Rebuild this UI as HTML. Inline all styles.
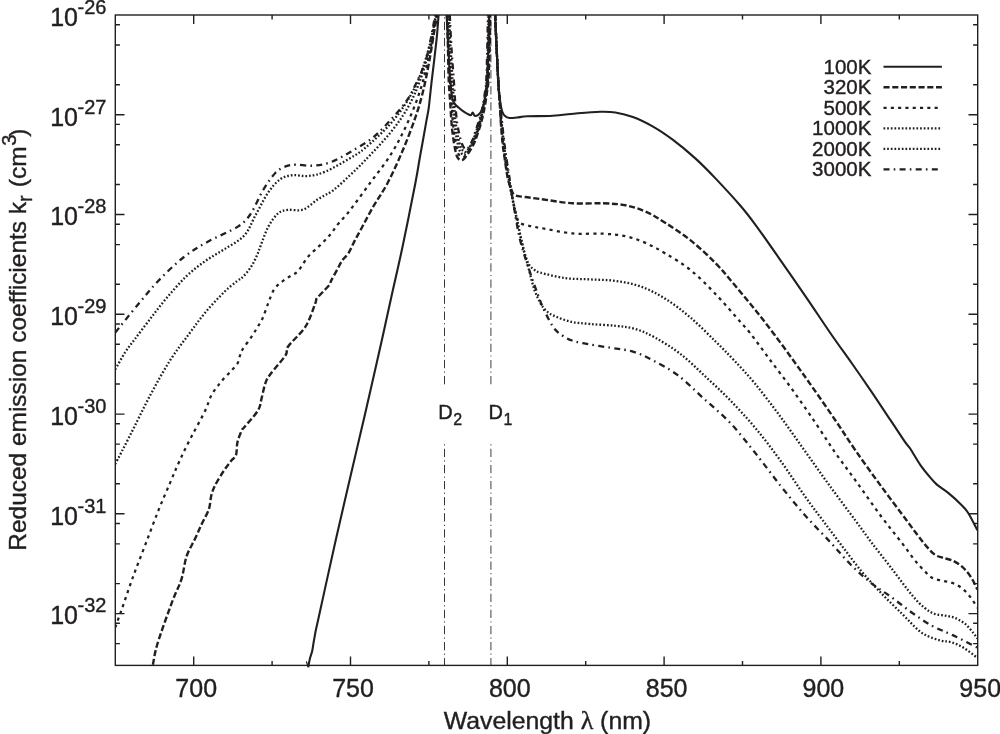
<!DOCTYPE html>
<html><head><meta charset="utf-8"><title>Reduced emission coefficients</title>
<style>html,body{margin:0;padding:0;background:#fff}svg{display:block}text{font-family:"Liberation Sans",sans-serif;fill:#231f20;stroke:#231f20;stroke-width:0.4px}</style></head><body>
<svg width="1000" height="734" viewBox="0 0 1000 734">
<rect width="1000" height="734" fill="#fff"/>
<clipPath id="c"><rect x="115.3" y="15.0" width="862.4" height="653.4"/></clipPath>
<g fill="none">
<path stroke="#231f20" stroke-width="0.9" stroke-dasharray="8.3 3.3 1.2 3.3" d="M444.5 384.3V15"/><path stroke="#231f20" stroke-width="0.9" stroke-dasharray="1.2 3.3 8.3 3.3" d="M444.5 444.3V665"/>
<path stroke="#5a5a5a" stroke-width="1.15" stroke-dasharray="8.3 3.3 1.2 3.3" d="M490.9 384.3V15"/><path stroke="#5a5a5a" stroke-width="1.15" stroke-dasharray="1.2 3.3 8.3 3.3" d="M490.9 444.3V665"/></g>
<g clip-path="url(#c)" fill="none" stroke="#231f20" stroke-linejoin="round">
<path style="stroke-width:2.1" d="M308.3 667.4C308.4 666.9 308.4 666.1 308.7 664.5C309.0 662.9 309.6 659.7 310.2 657.5C310.8 655.3 311.5 654.0 312.1 651.5C312.7 649.0 313.0 645.9 313.6 642.5C314.2 639.1 314.9 635.0 315.6 631.2C316.4 627.5 316.4 627.6 318.1 620.0C319.8 612.4 322.8 598.7 325.7 585.4C328.6 572.1 331.6 558.2 335.7 540.2C339.8 522.2 346.0 495.5 350.2 477.6C354.4 459.7 357.1 447.9 360.6 433.0C364.1 418.1 367.3 404.3 371.0 388.0C374.7 371.7 379.5 350.7 383.0 335.0C386.5 319.3 388.7 308.8 392.0 294.0C395.3 279.2 398.8 264.5 402.7 246.0C406.6 227.5 412.5 198.1 415.4 183.0C418.3 167.9 418.3 165.9 420.2 155.5C422.1 145.1 425.1 128.4 426.5 120.4C427.9 112.4 428.0 113.7 428.8 107.4C429.6 101.1 430.2 93.9 431.5 82.7C432.8 71.5 435.3 51.4 436.5 40.1C437.7 28.8 438.2 19.2 438.6 15.0"/>
<path style="stroke-width:2.1" d="M446.6 15.0C447.0 22.9 448.4 50.5 449.1 62.7C449.8 74.9 450.4 81.9 451.0 88.0C451.6 94.1 451.8 96.8 452.5 99.5C453.2 102.2 454.3 103.2 455.3 104.5C456.3 105.8 457.0 106.2 458.5 107.5C460.0 108.8 462.5 110.9 464.5 112.2C466.5 113.5 469.1 115.1 470.5 115.2C471.9 115.3 471.9 112.5 472.7 112.6C473.4 112.7 473.9 115.8 475.0 116.0C476.1 116.2 478.2 115.0 479.5 113.7C480.8 112.5 481.6 110.9 482.5 108.5C483.4 106.1 484.1 102.8 484.7 99.5C485.3 96.2 485.6 95.1 486.2 89.0C486.8 82.9 487.5 75.0 488.0 62.7C488.5 50.4 489.0 22.9 489.2 15.0"/>
<path style="stroke-width:2.1" d="M495.1 15.0C495.6 25.8 497.3 65.4 498.2 80.0C499.1 94.6 499.6 97.2 500.3 102.5C501.0 107.8 501.4 109.2 502.2 111.5C503.0 113.8 503.8 114.9 505.0 116.0C506.2 117.1 507.5 117.8 509.5 118.0C511.5 118.2 514.0 117.8 517.0 117.5C520.0 117.2 521.6 116.6 527.6 116.3C533.6 116.0 544.3 116.3 552.7 115.8C561.1 115.3 569.9 114.0 577.8 113.3C585.7 112.6 594.0 111.9 600.3 111.8C606.6 111.7 610.0 111.6 615.4 112.5C620.8 113.4 626.6 114.7 632.9 117.0C639.2 119.3 646.3 122.8 653.0 126.6C659.7 130.4 665.9 134.6 673.0 139.9C680.1 145.2 688.5 152.2 695.6 158.6C702.7 165.0 708.3 170.8 715.7 178.6C723.1 186.4 733.4 197.6 740.0 205.2C746.6 212.8 748.4 215.2 755.1 224.3C761.8 233.4 771.9 247.9 780.2 259.8C788.6 271.7 796.9 283.7 805.2 295.9C813.6 308.1 822.6 321.8 830.3 333.0C838.0 344.2 844.9 353.5 851.6 363.0C858.3 372.5 863.9 380.6 870.4 390.1C876.9 399.6 884.6 411.4 890.5 420.2C896.4 429.0 902.2 437.9 905.5 442.7C908.8 447.5 908.0 445.2 910.5 449.0C913.0 452.8 917.2 460.5 920.6 465.3C924.0 470.1 927.9 474.7 930.6 477.9C933.3 481.1 934.0 482.1 936.9 484.6C939.8 487.1 944.2 489.6 948.2 492.9C952.2 496.2 957.4 500.8 960.7 504.2C964.0 507.6 965.4 508.6 968.2 513.0C971.0 517.4 975.9 527.4 977.4 530.3"/>
<path style="stroke-width:2.4;stroke-dasharray:6.1 2.65" d="M152.9 664.7C153.7 661.1 154.4 653.7 157.7 643.0C161.0 632.3 168.7 611.0 172.7 600.4C176.7 589.8 179.2 586.4 181.5 579.1C183.8 571.8 184.3 563.1 186.5 556.5C188.7 549.9 192.2 544.8 194.7 539.5C197.2 534.2 199.2 529.5 201.5 524.5C203.8 519.5 207.2 514.2 208.8 509.5C210.4 504.8 210.2 500.0 211.2 496.0C212.2 492.0 212.9 489.8 215.0 485.5C217.1 481.2 221.3 474.6 224.0 470.5C226.7 466.4 229.0 463.6 231.0 461.0C233.0 458.4 234.9 458.2 236.0 455.0C237.1 451.8 236.5 446.2 237.5 442.0C238.5 437.8 240.9 432.4 242.0 430.0C243.1 427.6 241.3 430.8 244.0 427.5C246.7 424.2 255.1 415.3 258.0 410.4C260.9 405.5 260.4 402.5 261.7 397.9C262.9 393.3 264.0 386.8 265.5 382.8C267.0 378.8 267.1 378.6 270.5 374.0C273.9 369.4 282.7 359.8 285.6 355.2C288.5 350.6 284.8 351.3 288.1 346.5C291.4 341.7 301.1 333.5 305.6 326.4C310.1 319.2 313.4 308.2 315.2 303.6C317.0 299.0 315.3 300.5 316.7 298.5C318.1 296.5 321.1 293.9 323.3 291.5C325.5 289.1 328.5 286.2 329.8 284.4C331.1 282.5 330.0 282.9 331.3 280.4C332.6 277.9 335.5 272.7 337.4 269.3C339.2 265.9 340.5 262.9 342.4 260.2C344.2 257.5 346.5 256.4 348.5 253.2C350.5 250.0 352.5 245.0 354.5 241.1C356.5 237.2 357.5 235.7 360.6 230.0C363.7 224.3 368.5 214.8 373.0 207.0C377.5 199.2 382.7 192.4 387.6 183.0C392.6 173.6 398.1 161.3 402.7 150.5C407.3 139.7 411.9 127.5 415.2 117.9C418.5 108.3 420.4 102.0 422.7 92.8C425.0 83.6 426.9 74.0 429.0 62.7C431.1 51.4 433.9 33.0 435.3 25.0C436.7 17.1 437.0 16.7 437.3 15.0"/>
<path style="stroke-width:2.25;stroke-dasharray:3.1 4.2" d="M115.3 627.5C115.8 626.1 117.0 622.6 118.3 618.9C119.7 615.2 120.7 612.5 123.2 605.2C125.7 597.9 129.8 585.7 133.6 575.3C137.4 564.9 141.9 553.6 146.1 542.7C150.2 531.9 154.5 520.2 158.5 510.2C162.5 500.2 166.7 490.8 170.2 482.6C173.7 474.4 175.9 468.7 179.5 461.0C183.1 453.3 187.2 444.8 191.5 436.5C195.8 428.2 201.8 417.8 205.0 411.0C208.2 404.2 209.0 400.0 211.0 396.0C213.0 392.0 215.0 389.8 217.0 387.0C219.0 384.2 220.7 382.2 223.0 379.5C225.3 376.8 228.6 373.7 231.0 371.0C233.4 368.3 236.0 366.1 237.5 363.5C239.0 360.9 239.2 357.8 240.0 355.5C240.8 353.2 240.7 352.5 242.5 349.5C244.3 346.5 248.7 340.9 251.1 337.3C253.5 333.7 255.1 331.2 257.0 328.0C258.9 324.8 260.7 322.4 262.6 318.2C264.5 314.0 266.4 307.8 268.3 303.0C270.2 298.2 271.8 293.1 274.0 289.6C276.2 286.1 278.9 284.2 281.6 282.0C284.3 279.8 287.2 278.1 290.0 276.3C292.8 274.5 295.1 274.3 298.1 271.0C301.1 267.7 304.4 261.0 308.1 256.7C311.8 252.4 316.5 248.8 320.2 245.1C323.9 241.4 327.3 238.0 330.3 234.5C333.3 231.0 334.9 227.9 338.2 223.9C341.5 219.9 344.7 217.1 350.0 210.3C355.3 203.5 363.4 192.1 370.1 183.0C376.8 173.9 384.4 164.7 390.2 155.5C396.0 146.3 400.6 137.5 405.2 127.9C409.8 118.3 414.1 107.8 417.7 97.8C421.2 87.8 423.8 79.0 426.5 67.7C429.2 56.4 432.3 38.8 434.0 30.0C435.7 21.2 436.1 17.5 436.5 15.0"/>
<path style="stroke-width:2.3;stroke-dasharray:1.7 1.96" d="M115.3 464.0C117.8 459.2 124.2 446.9 130.0 435.5C135.8 424.1 143.5 407.9 150.2 395.3C156.9 382.8 163.7 370.4 170.2 360.2C176.7 350.0 183.2 341.9 189.0 334.0C194.8 326.1 199.4 319.5 205.3 312.5C211.2 305.5 219.1 297.0 224.4 291.8C229.7 286.6 233.8 283.8 237.0 281.2C240.2 278.6 241.2 278.7 243.5 276.3C245.8 273.9 248.9 270.1 251.1 266.7C253.3 263.3 255.1 259.5 256.7 256.0C258.3 252.5 258.7 250.7 260.6 245.8C262.5 240.9 265.4 232.1 268.3 226.7C271.2 221.3 274.6 216.4 277.8 213.6C281.0 210.8 283.3 210.6 287.5 209.9C291.7 209.2 298.0 211.4 303.1 209.6C308.2 207.8 313.2 202.2 318.2 199.0C323.2 195.8 327.9 194.3 333.2 190.3C338.5 186.3 344.7 180.2 350.0 175.2C355.3 170.2 358.3 167.6 365.0 160.5C371.7 153.4 383.1 141.7 390.2 132.9C397.3 124.1 402.7 116.6 407.7 107.8C412.7 99.0 416.4 90.7 420.2 80.2C424.0 69.8 427.7 56.0 430.3 45.1C432.9 34.2 435.1 20.0 436.0 15.0"/>
<path style="stroke-width:2.3;stroke-dasharray:1.7 1.96" d="M115.3 369.5C116.9 366.7 121.8 357.6 125.0 352.5C128.2 347.4 130.6 344.9 134.8 339.2C139.1 333.5 145.1 325.5 150.5 318.5C155.9 311.5 161.2 304.3 167.2 297.3C173.2 290.3 180.0 282.4 186.3 276.3C192.7 270.2 199.0 265.5 205.3 261.0C211.7 256.5 217.9 253.4 224.4 249.2C230.9 245.0 239.0 241.2 244.2 235.6C249.4 229.9 251.5 222.4 255.5 215.3C259.5 208.2 263.8 198.9 268.0 192.8C272.2 186.8 276.3 181.9 280.5 179.0C284.7 176.1 288.5 175.7 293.1 175.2C297.7 174.7 302.7 176.6 308.1 176.0C313.5 175.4 318.7 174.5 325.7 171.5C332.7 168.5 343.4 162.1 350.0 158.2C356.6 154.3 358.4 153.7 365.1 148.0C371.8 142.3 383.1 132.0 390.2 124.1C397.3 116.1 402.7 108.4 407.7 100.3C412.7 92.2 416.4 84.8 420.2 75.2C424.0 65.6 427.7 52.6 430.3 42.6C432.9 32.6 434.9 19.6 435.8 15.0"/>
<path style="stroke-width:2.3;stroke-dasharray:6 4.2 1.6 4.3" d="M115.3 332.5C119.0 327.9 130.4 313.6 137.6 305.0C144.8 296.4 150.7 288.8 158.2 281.0C165.7 273.2 174.4 264.6 182.7 258.0C191.0 251.4 198.6 246.9 207.8 241.7C217.0 236.5 230.8 231.2 237.9 226.6C245.0 222.0 246.3 220.1 250.5 214.1C254.7 208.1 258.8 197.2 263.0 190.3C267.2 183.4 271.7 176.7 275.5 172.7C279.3 168.7 282.2 167.7 285.6 166.4C289.0 165.1 291.0 164.8 295.6 164.7C300.2 164.6 307.2 166.1 313.1 165.7C319.0 165.3 324.6 164.4 330.7 162.2C336.8 159.9 343.0 156.2 350.0 152.2C357.0 148.1 365.9 143.2 372.6 137.9C379.3 132.6 384.8 126.2 390.2 120.4C395.6 114.6 401.0 108.7 405.2 102.8C409.4 96.9 411.6 92.8 415.2 85.3C418.8 77.8 423.1 69.4 426.5 57.7C429.9 46.0 433.8 22.1 435.3 15.0"/>
<path style="stroke-width:2.4;stroke-dasharray:6.1 2.65" d="M447.0 15.0C447.2 20.8 447.7 39.2 448.0 50.0C448.3 60.8 448.3 71.2 448.7 80.0C449.1 88.8 449.7 95.0 450.2 102.5C450.7 110.0 451.1 118.2 451.7 125.0C452.3 131.8 453.1 137.8 454.0 143.0C454.9 148.2 455.8 153.6 457.0 156.5C458.2 159.4 460.0 160.2 461.5 160.2C463.0 160.2 464.0 159.1 466.0 156.5C468.0 153.9 471.5 148.5 473.5 144.5C475.5 140.5 476.6 136.5 478.0 132.5C479.4 128.5 480.6 124.8 481.7 120.5C482.8 116.2 483.8 111.8 484.7 107.0C485.6 102.2 486.4 96.5 487.0 92.0C487.6 87.5 488.1 87.0 488.5 80.0C488.9 73.0 489.3 60.8 489.6 50.0C489.9 39.2 490.2 20.8 490.3 15.0"/>
<path style="stroke-width:2.25;stroke-dasharray:3.1 4.2" d="M447.7 15.0C447.9 20.8 448.5 39.2 448.9 50.0C449.3 60.8 449.5 71.2 450.0 80.0C450.4 88.8 450.9 95.1 451.4 102.5C452.0 109.9 452.4 117.8 453.0 124.2C453.7 130.7 454.5 136.1 455.4 141.0C456.2 145.9 457.1 150.6 458.2 153.4C459.4 156.1 461.1 157.2 462.4 157.4C463.8 157.6 464.7 156.7 466.5 154.4C468.3 152.0 471.4 147.1 473.2 143.4C475.1 139.6 476.2 135.6 477.5 131.8C478.8 127.9 480.0 124.2 481.1 120.1C482.3 116.0 483.3 111.7 484.1 107.0C485.0 102.3 485.9 96.5 486.5 92.0C487.1 87.5 487.5 87.0 487.9 80.0C488.4 73.0 488.7 60.8 489.0 50.0C489.3 39.2 489.6 20.8 489.7 15.0"/>
<path style="stroke-width:2.3;stroke-dasharray:1.7 1.96" d="M448.4 15.0C448.6 20.8 449.3 39.2 449.8 50.0C450.3 60.8 450.8 71.2 451.2 80.0C451.7 88.8 452.2 95.2 452.7 102.5C453.2 109.8 453.7 117.4 454.4 123.5C455.0 129.6 455.9 134.5 456.8 139.0C457.6 143.5 458.4 147.7 459.5 150.2C460.6 152.8 462.1 154.3 463.4 154.6C464.6 154.9 465.4 154.3 467.0 152.2C468.6 150.2 471.3 145.8 473.0 142.2C474.7 138.7 475.7 134.8 477.0 131.0C478.3 127.2 479.5 123.8 480.6 119.8C481.7 115.8 482.7 111.6 483.6 107.0C484.5 102.4 485.4 96.5 486.0 92.0C486.6 87.5 487.0 87.0 487.4 80.0C487.8 73.0 488.1 60.8 488.4 50.0C488.7 39.2 489.0 20.8 489.1 15.0"/>
<path style="stroke-width:2.3;stroke-dasharray:1.7 1.96" d="M449.1 15.0C449.4 20.8 450.1 39.2 450.7 50.0C451.3 60.8 452.0 71.2 452.5 80.0C453.1 88.8 453.4 95.4 453.9 102.5C454.5 109.6 455.0 117.0 455.7 122.8C456.4 128.5 457.3 132.9 458.1 137.0C459.0 141.1 459.7 144.7 460.8 147.1C461.8 149.6 463.1 151.3 464.3 151.8C465.4 152.3 466.1 151.9 467.5 150.1C468.9 148.3 471.2 144.4 472.8 141.1C474.2 137.8 475.3 133.9 476.5 130.2C477.7 126.6 479.0 123.2 480.1 119.4C481.1 115.5 482.1 111.6 483.1 107.0C484.0 102.4 484.9 96.5 485.5 92.0C486.1 87.5 486.5 87.0 486.9 80.0C487.2 73.0 487.5 60.8 487.8 50.0C488.1 39.2 488.4 20.8 488.5 15.0"/>
<path style="stroke-width:2.3;stroke-dasharray:6 4.2 1.6 4.3" d="M449.8 15.0C450.1 20.8 450.9 39.2 451.6 50.0C452.3 60.8 453.2 71.2 453.8 80.0C454.4 88.8 454.7 95.5 455.2 102.5C455.7 109.5 456.3 116.6 457.0 122.0C457.7 127.4 458.7 131.3 459.5 135.0C460.3 138.7 461.1 141.7 462.0 144.0C462.9 146.3 464.2 148.3 465.2 149.0C466.2 149.7 466.8 149.5 468.0 148.0C469.2 146.5 471.2 143.1 472.5 140.0C473.8 136.9 474.8 133.0 476.0 129.5C477.2 126.0 478.4 122.8 479.5 119.0C480.6 115.2 481.6 111.5 482.5 107.0C483.4 102.5 484.4 96.5 485.0 92.0C485.6 87.5 485.9 87.0 486.3 80.0C486.7 73.0 486.9 60.8 487.2 50.0C487.5 39.2 487.8 20.8 487.9 15.0"/>
<path style="stroke-width:2.4;stroke-dasharray:6.1 2.65" d="M495.1 15.0C495.6 25.8 497.4 65.4 498.2 80.0C499.0 94.6 499.3 95.5 499.8 102.5C500.2 109.5 500.3 114.9 500.8 122.0C501.3 129.1 502.1 138.7 502.8 145.0C503.5 151.3 504.1 154.5 504.9 160.0C505.7 165.5 506.6 173.0 507.7 178.0C508.8 183.0 510.3 187.1 511.5 190.0C512.7 192.9 512.9 194.1 515.1 195.3C517.4 196.5 520.8 196.4 525.0 197.0C529.2 197.6 532.2 197.9 540.2 199.0C548.2 200.1 562.3 202.6 572.7 203.3C583.1 204.0 594.0 203.0 602.8 203.3C611.6 203.6 618.3 203.9 625.4 205.3C632.5 206.7 638.8 208.7 645.5 211.6C652.2 214.5 658.0 218.1 665.5 222.9C673.0 227.7 682.2 233.7 690.6 240.4C699.0 247.1 708.4 255.9 715.7 263.3C723.0 270.7 727.9 277.1 734.5 284.8C741.1 292.6 748.3 301.4 755.1 309.8C761.9 318.2 768.4 326.6 775.1 335.5C781.8 344.4 788.9 354.3 795.2 363.0C801.5 371.7 806.0 378.1 812.7 387.6C819.4 397.1 828.2 409.8 835.3 420.2C842.4 430.6 847.9 439.4 855.4 450.3C862.9 461.2 872.0 473.8 880.5 485.4C889.0 497.0 900.0 511.5 906.3 520.0C912.6 528.5 915.1 531.9 918.5 536.3C921.9 540.7 924.0 543.5 926.7 546.6C929.4 549.7 932.2 552.8 934.9 554.7C937.6 556.6 939.9 556.8 943.0 557.8C946.1 558.8 949.9 559.2 953.3 560.9C956.7 562.6 960.5 565.1 963.5 568.0C966.5 570.9 969.3 574.6 971.6 578.2C973.9 581.8 976.4 587.6 977.4 589.5"/>
<path style="stroke-width:2.25;stroke-dasharray:3.1 4.2" d="M495.1 15.0C495.6 25.8 497.4 65.4 498.2 80.0C499.0 94.6 499.4 95.5 499.8 102.5C500.3 109.5 500.5 114.9 501.0 122.0C501.6 129.1 502.5 138.7 503.2 145.0C503.9 151.3 504.5 154.5 505.3 160.0C506.1 165.5 506.9 171.7 508.1 178.0C509.3 184.3 511.1 191.7 512.5 198.0C513.9 204.3 515.2 211.8 516.5 216.0C517.8 220.2 518.2 221.3 520.1 222.9C522.0 224.5 524.6 224.7 528.0 225.5C531.4 226.3 532.8 226.6 540.2 227.9C547.7 229.2 562.3 232.4 572.7 233.4C583.1 234.4 594.0 233.2 602.8 233.7C611.6 234.2 618.3 234.7 625.4 236.2C632.5 237.7 638.8 240.0 645.5 242.9C652.2 245.8 658.0 249.0 665.5 253.5C673.0 258.0 682.2 263.3 690.6 270.1C699.0 276.9 707.5 285.6 715.7 294.2C723.9 302.8 734.3 315.0 740.0 321.5C745.7 328.0 745.1 326.6 750.1 333.0C755.1 339.4 763.0 350.5 770.1 360.0C777.2 369.5 785.2 379.7 792.7 390.1C800.2 400.6 808.2 412.2 815.3 422.7C822.4 433.1 828.6 443.2 835.3 452.8C842.0 462.4 847.9 469.9 855.4 480.4C862.9 490.8 872.7 505.0 880.5 515.5C888.3 526.0 896.6 536.0 902.2 543.4C907.9 550.8 910.7 555.2 914.4 559.8C918.1 564.4 921.5 568.0 924.6 571.1C927.7 574.2 929.7 576.6 932.8 578.2C935.9 579.8 939.6 580.0 943.0 580.9C946.4 581.8 949.9 581.9 953.3 583.3C956.7 584.7 960.5 586.9 963.5 589.5C966.5 592.1 969.3 595.6 971.6 598.7C973.9 601.8 976.4 606.4 977.4 607.9"/>
<path style="stroke-width:2.3;stroke-dasharray:1.7 1.96" d="M495.1 15.0C495.6 25.8 497.4 65.4 498.2 80.0C499.0 94.6 499.4 95.5 499.9 102.5C500.4 109.5 500.7 114.9 501.3 122.0C501.9 129.1 502.9 138.7 503.6 145.0C504.3 151.3 504.9 154.5 505.7 160.0C506.5 165.5 507.3 171.2 508.5 178.0C509.7 184.8 511.5 193.7 513.0 201.0C514.5 208.3 516.0 215.0 517.5 222.0C519.0 229.0 520.7 237.3 522.0 243.0C523.3 248.7 524.3 252.4 525.5 256.0C526.7 259.6 527.6 262.2 529.0 264.5C530.4 266.8 532.1 268.1 534.0 269.5C535.9 270.9 535.0 271.2 540.2 272.6C545.4 274.0 556.9 277.0 565.2 278.1C573.6 279.2 581.9 278.9 590.3 279.4C598.7 279.9 607.0 279.7 615.4 280.9C623.8 282.1 632.1 283.4 640.5 286.4C648.9 289.4 657.1 293.7 665.5 298.9C673.9 304.1 682.2 310.6 690.6 317.7C699.0 324.8 708.5 334.6 715.7 341.6C722.9 348.7 727.2 353.0 733.8 360.0C740.4 367.0 747.4 374.4 755.1 383.8C762.8 393.2 771.9 405.1 780.2 416.4C788.6 427.7 796.9 439.8 805.2 451.5C813.6 463.2 821.9 475.1 830.3 486.6C838.7 498.1 848.5 511.2 855.4 520.5C862.3 529.8 865.4 534.4 871.5 542.5C877.6 550.6 885.2 560.1 892.0 569.0C898.8 577.9 907.0 589.1 912.4 595.6C917.8 602.1 920.9 604.8 924.6 607.9C928.4 611.0 931.5 612.7 934.9 614.0C938.3 615.3 941.7 614.9 945.1 615.6C948.5 616.3 951.9 616.7 955.3 618.1C958.7 619.5 962.4 621.7 965.5 624.2C968.6 626.8 971.7 631.0 973.7 633.4C975.7 635.8 976.8 637.6 977.4 638.5"/>
<path style="stroke-width:2.3;stroke-dasharray:1.7 1.96" d="M495.1 15.0C495.6 25.8 497.4 65.4 498.2 80.0C499.0 94.6 499.4 95.5 500.0 102.5C500.6 109.5 501.0 114.9 501.6 122.0C502.3 129.1 503.3 138.7 504.1 145.0C504.9 151.3 505.4 154.5 506.2 160.0C507.0 165.5 507.8 170.8 509.0 178.0C510.2 185.2 511.8 195.2 513.3 203.0C514.8 210.8 516.4 217.7 518.0 225.0C519.6 232.3 521.2 239.5 523.0 247.0C524.8 254.5 527.1 262.8 529.0 270.0C530.9 277.2 532.6 284.6 534.5 290.0C536.4 295.4 538.5 299.4 540.2 302.7C542.0 305.9 542.9 307.4 545.0 309.5C547.1 311.6 548.5 313.2 552.7 315.2C556.9 317.2 563.9 320.0 570.2 321.5C576.5 323.0 582.8 323.3 590.3 324.0C597.8 324.7 607.9 325.0 615.4 325.8C622.9 326.6 628.7 327.0 635.4 329.0C642.1 331.0 648.0 333.6 655.5 337.8C663.0 342.0 672.2 347.6 680.6 354.1C689.0 360.6 697.4 369.0 705.6 376.7C713.8 384.4 721.8 391.6 730.0 400.1C738.2 408.6 746.7 417.7 755.1 427.7C763.5 437.7 771.9 448.8 780.2 460.3C788.6 471.8 798.2 486.8 805.2 496.7C812.2 506.6 816.5 512.0 822.5 520.0C828.5 528.0 834.4 536.0 840.9 544.5C847.4 553.0 854.5 562.9 861.3 571.1C868.1 579.3 874.9 586.5 881.7 593.6C888.5 600.8 896.1 607.9 902.2 614.0C908.3 620.1 914.1 626.5 918.5 630.3C922.9 634.0 925.0 634.8 928.7 636.5C932.5 638.2 937.2 639.6 941.0 640.6C944.8 641.6 947.5 641.0 951.2 642.2C955.0 643.4 959.1 645.1 963.5 647.7C967.9 650.3 975.1 656.2 977.4 657.9"/>
<path style="stroke-width:2.3;stroke-dasharray:6 4.2 1.6 4.3" d="M495.1 15.0C495.6 25.8 497.4 65.4 498.2 80.0C499.0 94.6 499.5 95.5 500.1 102.5C500.7 109.5 501.2 114.9 502.0 122.0C502.7 129.1 503.8 138.7 504.6 145.0C505.4 151.3 505.9 154.5 506.7 160.0C507.5 165.5 508.4 170.5 509.5 178.0C510.6 185.5 511.8 194.7 513.6 205.0C515.4 215.3 517.4 228.7 520.1 240.0C522.9 251.3 526.8 262.5 530.1 272.6C533.5 282.7 537.6 293.9 540.2 300.8C542.9 307.7 543.9 309.8 546.0 314.0C548.1 318.2 550.7 323.2 552.7 326.3C554.7 329.4 555.9 330.5 558.0 332.3C560.1 334.1 562.9 335.9 565.2 337.3C567.5 338.7 569.1 339.5 572.0 340.5C574.9 341.5 576.4 342.0 582.8 343.2C589.2 344.4 602.0 346.4 610.4 347.8C618.8 349.2 625.8 349.5 632.9 351.6C640.0 353.7 645.5 356.4 653.0 360.4C660.5 364.4 669.8 369.1 678.1 375.4C686.5 381.7 694.5 390.1 703.1 398.0C711.8 405.9 721.3 413.6 730.0 422.7C738.7 431.8 746.7 442.4 755.1 452.8C763.5 463.2 771.9 474.9 780.2 485.4C788.6 495.8 796.8 506.0 805.2 515.5C813.6 525.0 823.0 534.2 830.6 542.5C838.2 550.8 844.3 558.2 851.1 565.0C857.9 571.8 864.7 577.9 871.5 583.3C878.3 588.7 885.2 592.6 892.0 597.6C898.8 602.6 905.6 608.2 912.4 613.0C919.2 617.8 926.0 622.5 932.8 626.2C939.6 629.9 945.9 631.8 953.3 635.4C960.7 639.0 973.4 645.7 977.4 647.7"/>
<path stroke-width="1.3" d="M308.2 666.8L306.3 661.4"/>
</g>
<g stroke="#231f20" stroke-width="1.4" fill="none">
<rect x="115.3" y="15.0" width="862.4" height="650.4"/>
<path d="M115.3 24.7 h4.6M977.7 24.7 h-4.6M115.3 45.0 h4.6M977.7 45.0 h-4.6M115.3 84.7 h4.6M977.7 84.7 h-4.6M115.3 114.8 h9.2M977.7 114.8 h-9.2M115.3 124.4 h4.6M977.7 124.4 h-4.6M115.3 144.8 h4.6M977.7 144.8 h-4.6M115.3 184.5 h4.6M977.7 184.5 h-4.6M115.3 214.5 h9.2M977.7 214.5 h-9.2M115.3 224.2 h4.6M977.7 224.2 h-4.6M115.3 244.6 h4.6M977.7 244.6 h-4.6M115.3 284.3 h4.6M977.7 284.3 h-4.6M115.3 314.3 h9.2M977.7 314.3 h-9.2M115.3 324.0 h4.6M977.7 324.0 h-4.6M115.3 344.3 h4.6M977.7 344.3 h-4.6M115.3 384.0 h4.6M977.7 384.0 h-4.6M115.3 414.1 h9.2M977.7 414.1 h-9.2M115.3 423.7 h4.6M977.7 423.7 h-4.6M115.3 444.1 h4.6M977.7 444.1 h-4.6M115.3 483.8 h4.6M977.7 483.8 h-4.6M115.3 513.8 h9.2M977.7 513.8 h-9.2M115.3 523.5 h4.6M977.7 523.5 h-4.6M115.3 543.9 h4.6M977.7 543.9 h-4.6M115.3 583.6 h4.6M977.7 583.6 h-4.6M115.3 613.6 h9.2M977.7 613.6 h-9.2M115.3 623.3 h4.6M977.7 623.3 h-4.6M115.3 643.6 h4.6M977.7 643.6 h-4.6M193.7 665.4 v-9M193.7 15.0 v9M350.5 665.4 v-9M350.5 15.0 v9M507.3 665.4 v-9M507.3 15.0 v9M664.1 665.4 v-9M664.1 15.0 v9M820.9 665.4 v-9M820.9 15.0 v9M272.1 665.4 v-4.5M272.1 15.0 v4.5M428.9 665.4 v-4.5M428.9 15.0 v4.5M585.7 665.4 v-4.5M585.7 15.0 v4.5M742.5 665.4 v-4.5M742.5 15.0 v4.5M899.3 665.4 v-4.5M899.3 15.0 v4.5"/>
</g>
<g fill="none" stroke="#231f20">
<path style="stroke-width:2.1" d="M883.5 66.8H941.9"/>
<path style="stroke-width:2.4;stroke-dasharray:6.1 2.65" d="M883.5 87.3H941.9"/>
<path style="stroke-width:2.25;stroke-dasharray:3.1 4.2" d="M883.5 107.8H941.9"/>
<path style="stroke-width:2.3;stroke-dasharray:1.7 1.96" d="M883.5 128.3H941.9"/>
<path style="stroke-width:2.3;stroke-dasharray:1.7 1.96" d="M883.5 148.8H941.9"/>
<path style="stroke-width:2.3;stroke-dasharray:6 4.2 1.6 4.3" d="M883.5 169.3H941.9"/>
</g>
<g font-size="20.5" text-anchor="end">
<text x="871.4" y="73.6">100K</text>
<text x="871.4" y="94.1">320K</text>
<text x="871.4" y="114.6">500K</text>
<text x="871.4" y="135.1">1000K</text>
<text x="871.4" y="155.6">2000K</text>
<text x="871.4" y="176.1">3000K</text>
</g>
<text x="50.2" y="25.8" font-size="25">10<tspan font-size="20" dy="-12" dx="-0.5">-26</tspan></text>
<text x="50.2" y="125.6" font-size="25">10<tspan font-size="20" dy="-12" dx="-0.5">-27</tspan></text>
<text x="50.2" y="225.3" font-size="25">10<tspan font-size="20" dy="-12" dx="-0.5">-28</tspan></text>
<text x="50.2" y="325.1" font-size="25">10<tspan font-size="20" dy="-12" dx="-0.5">-29</tspan></text>
<text x="50.2" y="424.9" font-size="25">10<tspan font-size="20" dy="-12" dx="-0.5">-30</tspan></text>
<text x="50.2" y="524.6" font-size="25">10<tspan font-size="20" dy="-12" dx="-0.5">-31</tspan></text>
<text x="50.2" y="624.4" font-size="25">10<tspan font-size="20" dy="-12" dx="-0.5">-32</tspan></text>
<g font-size="25" text-anchor="middle">
<text x="196.2" y="696.7">700</text>
<text x="353.0" y="696.7">750</text>
<text x="509.8" y="696.7">800</text>
<text x="666.6" y="696.7">850</text>
<text x="823.4" y="696.7">900</text>
<text x="980.2" y="696.7">950</text>
</g>
<text x="547.4" y="729" font-size="24.8" text-anchor="middle">Wavelength <tspan font-family="Liberation Serif,serif" font-size="26">λ</tspan> (nm)</text>
<text transform="translate(25.6,339.6) rotate(-90)" font-size="24.45" text-anchor="middle">Reduced emission coefficients k<tspan font-size="20" dy="6">r</tspan><tspan dy="-6" dx="1.4"> (cm</tspan><tspan font-size="20" dy="-10" dx="0.6">3</tspan><tspan dy="10" dx="-2">)</tspan></text>
<text x="438.3" y="418.5" font-size="20">D<tspan font-size="16" dy="6" dx="0.5">2</tspan></text>
<text x="488.5" y="418.5" font-size="20">D<tspan font-size="16" dy="6" dx="0.5">1</tspan></text>
</svg></body></html>
